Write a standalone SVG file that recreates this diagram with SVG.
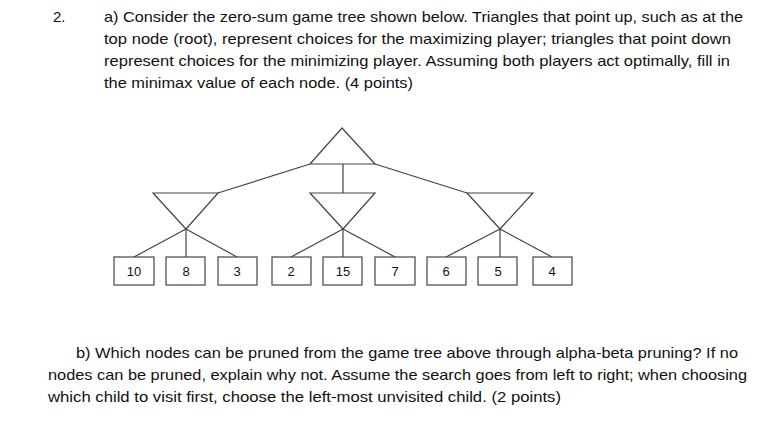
<svg xmlns="http://www.w3.org/2000/svg" width="783" height="424" viewBox="0 0 783 424">
<style>
text{font-family:"Liberation Sans",Arial,sans-serif;font-size:15px;fill:#111}
.n{font-size:13px;text-anchor:middle}
.s{fill:#fff;stroke:#444;stroke-width:1.2}
.c{stroke:#444;stroke-width:1.2;fill:none}
</style>
<rect width="783" height="424" fill="#fff"/>
<text x="53" y="22">2.</text>
<text x="104" y="22" textLength="639" lengthAdjust="spacingAndGlyphs">a) Consider the zero-sum game tree shown below. Triangles that point up, such as at the</text>
<text x="104" y="44" textLength="627" lengthAdjust="spacingAndGlyphs">top node (root), represent choices for the maximizing player; triangles that point down</text>
<text x="104" y="66" textLength="626" lengthAdjust="spacingAndGlyphs">represent choices for the minimizing player. Assuming both players act optimally, fill in</text>
<text x="104" y="88" textLength="309" lengthAdjust="spacingAndGlyphs">the minimax value of each node. (4 points)</text>
<g id="connectors" class="c">
<path d="M310 164L218 193M343 164V193M375 164L467 193"/>
<path d="M186 229L134 257M186 229V257M186 229L237 257"/>
<path d="M343 229L291 257M343 229V257M343 229L395 257"/>
<path d="M500 229L446 257M500 229V257M500 229L552 257"/>
</g>
<g id="root"><polygon class="s" points="342,128 375,164 310,164"/></g>
<g id="minL"><polygon class="s" points="153,193 218,193 186,229"/></g>
<g id="minM"><polygon class="s" points="310,193 375,193 343,229"/></g>
<g id="minR"><polygon class="s" points="467,193 533,193 500,229"/></g>
<g id="l1"><rect class="s" x="114" y="257" width="40" height="28"/><text class="n" x="134" y="276">10</text></g>
<g id="l2"><rect class="s" x="166" y="257" width="39" height="28"/><text class="n" x="186" y="276">8</text></g>
<g id="l3"><rect class="s" x="218" y="257" width="39" height="28"/><text class="n" x="237" y="276">3</text></g>
<g id="l4"><rect class="s" x="272" y="257" width="39" height="28"/><text class="n" x="291" y="276">2</text></g>
<g id="l5"><rect class="s" x="323" y="257" width="39" height="28"/><text class="n" x="343" y="276">15</text></g>
<g id="l6"><rect class="s" x="375" y="257" width="40" height="28"/><text class="n" x="395" y="276">7</text></g>
<g id="l7"><rect class="s" x="427" y="257" width="39" height="28"/><text class="n" x="446" y="276">6</text></g>
<g id="l8"><rect class="s" x="478" y="257" width="39" height="28"/><text class="n" x="498" y="276">5</text></g>
<g id="l9"><rect class="s" x="533" y="257" width="39" height="28"/><text class="n" x="552" y="276">4</text></g>
<text x="76" y="358" textLength="662" lengthAdjust="spacingAndGlyphs">b) Which nodes can be pruned from the game tree above through alpha-beta pruning? If no</text>
<text x="48" y="380" textLength="699" lengthAdjust="spacingAndGlyphs">nodes can be pruned, explain why not. Assume the search goes from left to right; when choosing</text>
<text x="48" y="402" textLength="513" lengthAdjust="spacingAndGlyphs">which child to visit first, choose the left-most unvisited child. (2 points)</text>
</svg>
